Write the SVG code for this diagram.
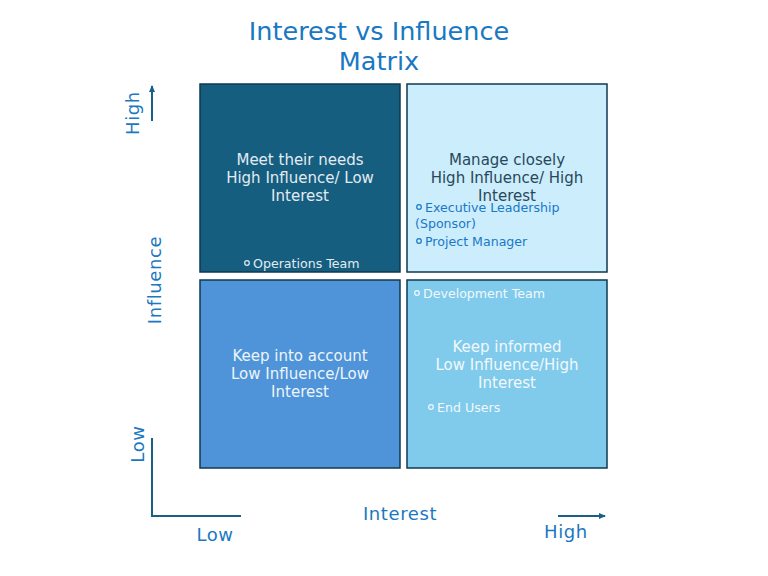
<svg xmlns="http://www.w3.org/2000/svg" width="768" height="576" viewBox="0 0 768 576">
<style>
.box{stroke:#0e3a50;stroke-width:1.5}
.t{font-family:"DejaVu Sans",sans-serif;font-size:15px;text-anchor:middle}
.b{font-family:"DejaVu Sans",sans-serif;font-size:12.6px}
.ax{font-family:"DejaVu Sans",sans-serif;fill:#1a78c2;font-size:18px;letter-spacing:0.6px;text-anchor:middle}
.axl{stroke:#1a5f86;stroke-width:2;fill:none}
.dot{fill:none;stroke-width:1.2}
</style>
<defs>
<marker id="ah" markerWidth="8" markerHeight="8" refX="6" refY="4" orient="auto" markerUnits="userSpaceOnUse">
<path d="M0,1 L7,4 L0,7 Z" fill="#1a5f86"/>
</marker>
</defs>
<rect width="768" height="576" fill="#ffffff"/>
<g id="title">
<text x="379" y="40" font-family="DejaVu Sans,sans-serif" font-size="25.5" fill="#1a78c2" text-anchor="middle">Interest vs Influence</text>
<text x="379" y="70" font-family="DejaVu Sans,sans-serif" font-size="25.5" fill="#1a78c2" text-anchor="middle">Matrix</text>
</g>
<g id="q-tl">
<rect class="box" x="200" y="84" width="200" height="188" fill="#155e80"/>
<text class="t" fill="#e3ebf2" x="300" y="165">Meet their needs</text>
<text class="t" fill="#e3ebf2" x="300" y="183">High Influence/ Low</text>
<text class="t" fill="#e3ebf2" x="300" y="201">Interest</text>
<circle class="dot" stroke="#e3ebf2" cx="247" cy="263" r="2.3"/>
<text class="b" fill="#e3ebf2" x="253" y="268">Operations Team</text>
</g>
<g id="q-tr">
<rect class="box" x="407" y="84" width="200" height="188" fill="#ccedfc"/>
<text class="t" fill="#27485a" x="507" y="165">Manage closely</text>
<text class="t" fill="#27485a" x="507" y="183">High Influence/ High</text>
<text class="t" fill="#27485a" x="507" y="201">Interest</text>
<circle class="dot" stroke="#1a78c8" cx="419" cy="207" r="2.3"/>
<text class="b" fill="#1a78c8" x="425" y="212">Executive Leadership</text>
<text class="b" fill="#1a78c8" x="415" y="228">(Sponsor)</text>
<circle class="dot" stroke="#1a78c8" cx="419" cy="241" r="2.3"/>
<text class="b" fill="#1a78c8" x="425" y="246">Project Manager</text>
</g>
<g id="q-bl">
<rect class="box" x="200" y="280" width="200" height="188" fill="#4f94d8"/>
<text class="t" fill="#eef4fa" x="300" y="361">Keep into account</text>
<text class="t" fill="#eef4fa" x="300" y="379">Low Influence/Low</text>
<text class="t" fill="#eef4fa" x="300" y="397">Interest</text>
</g>
<g id="q-br">
<rect class="box" x="407" y="280" width="200" height="188" fill="#80cbec"/>
<circle class="dot" stroke="#f2f8fc" cx="417" cy="293" r="2.3"/>
<text class="b" fill="#f2f8fc" x="423" y="298">Development Team</text>
<text class="t" fill="#f2f8fc" x="507" y="352">Keep informed</text>
<text class="t" fill="#f2f8fc" x="507" y="370">Low Influence/High</text>
<text class="t" fill="#f2f8fc" x="507" y="388">Interest</text>
<circle class="dot" stroke="#f2f8fc" cx="431" cy="407" r="2.3"/>
<text class="b" fill="#f2f8fc" x="437" y="412">End Users</text>
</g>
<g id="connectors">
<path class="axl" d="M152,438 L152,516 L241,516"/>
<line class="axl" x1="152" y1="121" x2="152" y2="86" marker-end="url(#ah)"/>
<line class="axl" x1="558" y1="516" x2="605" y2="516" marker-end="url(#ah)"/>
</g>
<g id="axis-labels">
<text class="ax" transform="translate(139,113) rotate(-90)">High</text>
<text class="ax" transform="translate(161,280) rotate(-90)">Influence</text>
<text class="ax" transform="translate(144,444) rotate(-90)">Low</text>
<text class="ax" x="400" y="520">Interest</text>
<text class="ax" x="215" y="541">Low</text>
<text class="ax" x="566" y="538">High</text>
</g>
</svg>
